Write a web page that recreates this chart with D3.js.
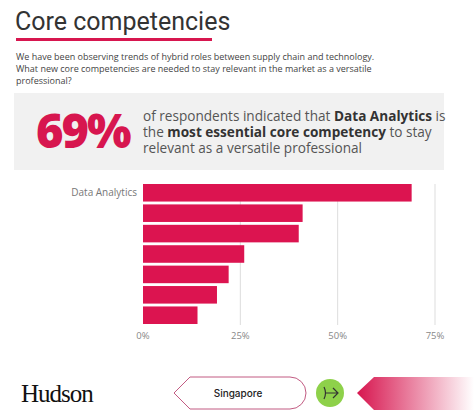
<!DOCTYPE html>
<html><head><meta charset="utf-8">
<script src="https://cdn.jsdelivr.net/npm/d3@7"></script>
<style>body{margin:0;background:#fff}</style></head>
<body><svg id="c" width="474" height="415"></svg>
<script>
const categories=["Data Analytics","","","","","",""];
const values=[69,41,40,26,22,19,14];
const tickValues=[0,25,50,75];
const tickLabels=["0%","25%","50%","75%"];
const svg=d3.select("#c");
const F="Open Sans, sans-serif";
svg.append("text").attr("x",15).attr("y",30).attr("font-family","Roboto, sans-serif").attr("font-size",25).attr("fill","#333").text("Core competencies");
svg.append("rect").attr("x",16).attr("y",38).attr("width",196).attr("height",3).attr("fill","#d7164f");
["We have been observing trends of hybrid roles between supply chain and technology.","What new core competencies are needed to stay relevant in the market as a versatile","professional?"].forEach((t,i)=>svg.append("text").attr("x",16).attr("y",60+i*12).attr("font-family",F).attr("font-size",9).attr("fill","#444").text(t));
svg.append("rect").attr("x",14).attr("y",93).attr("width",430).attr("height",77).attr("fill","#f1f1f1");
svg.append("text").attr("x",36).attr("y",148).attr("font-family",F).attr("font-weight",800).attr("font-size",47).attr("fill","#d7164f").attr("letter-spacing",-2).text("69%");
const lines=["of respondents indicated that <tspan font-weight='700' fill='#333'>Data Analytics</tspan> is","the <tspan font-weight='700' fill='#333'>most essential core competency</tspan> to stay","relevant as a versatile professional"];
lines.forEach((l,i)=>svg.append("text").attr("x",143).attr("y",121+i*16).attr("font-family",F).attr("font-size",13.6).attr("fill","#555").html(l));
const x=d3.scaleLinear().domain([0,75]).range([143,435]);
const y=d3.scaleBand().domain(d3.range(values.length)).range([184,324]).paddingInner(0.14);
const g=svg.append("g");
g.selectAll(".gl").data(tickValues.slice(1)).enter().append("line").attr("x1",d=>x(d)).attr("x2",d=>x(d)).attr("y1",184).attr("y2",325).attr("stroke","#ddd");
g.selectAll(".b").data(values).enter().append("rect").attr("x",x(0)).attr("y",(d,i)=>y(i)).attr("width",d=>x(d)-x(0)).attr("height",y.bandwidth()).attr("fill","#dc1450");
g.selectAll(".cl").data(categories).enter().append("text").attr("x",137).attr("y",(d,i)=>y(i)+y.bandwidth()/2+3.5).attr("text-anchor","end").attr("font-family",F).attr("font-size",10).attr("fill","#777").text(d=>d);
g.selectAll(".tl").data(tickValues).enter().append("text").attr("x",d=>x(d)).attr("y",339).attr("text-anchor","middle").attr("font-family",F).attr("font-size",9.5).attr("fill","#888").text((d,i)=>tickLabels[i]);
svg.append("text").attr("x",21).attr("y",402).attr("font-family","Liberation Serif, serif").attr("font-size",25).attr("fill","#111").attr("letter-spacing",-1).text("Hudson");
svg.append("path").attr("d","M190,377 L290,377 A16,16 0 0 1 290,409 L190,409 L174,393 Z").attr("fill","#fff").attr("stroke","#c25b82").attr("stroke-width",1);
svg.append("text").attr("x",238).attr("y",397).attr("text-anchor","middle").attr("font-family","Inter, sans-serif").attr("font-weight",500).attr("font-size",10).attr("fill","#222").text("Singapore");
svg.append("circle").attr("cx",330).attr("cy",393).attr("r",14).attr("fill","#8ed14a");
svg.append("path").attr("d","M324,387 Q327,393 324,399 M326,393 L337,393 M333,388 L338,393 L333,398").attr("fill","none").attr("stroke","#333").attr("stroke-width",1.2);
const gr=svg.append("defs").append("linearGradient").attr("id","gr");
gr.append("stop").attr("offset",0).attr("stop-color","#d7164f");gr.append("stop").attr("offset",1).attr("stop-color","#fff");
svg.append("path").attr("d","M374,377 L474,377 L474,410 L374,410 L357,393 Z").attr("fill","url(#gr)");
</script></body></html>
